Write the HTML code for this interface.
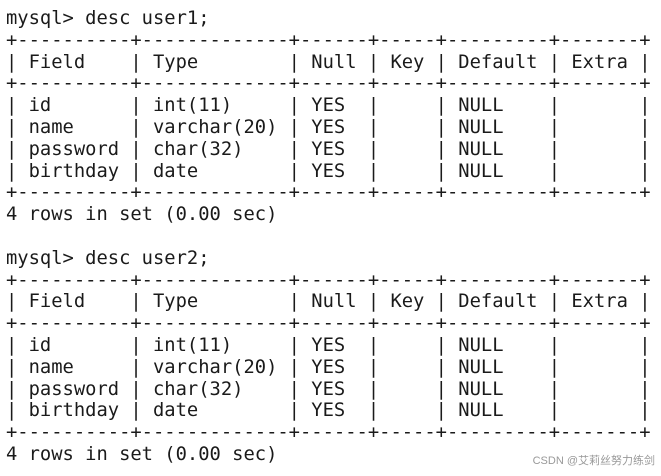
<!DOCTYPE html>
<html><head><meta charset="utf-8"><style>
html,body{margin:0;padding:0;background:#fff;width:661px;height:476px;overflow:hidden;position:relative}
pre{margin:0;position:absolute;left:6px;top:8px;font-family:"DejaVu Sans Mono","Liberation Mono",monospace;font-size:18.8px;line-height:21.8px;color:#1a1a1a;letter-spacing:0}
.wm{position:absolute;right:6px;bottom:8px;font-family:"Liberation Sans","Noto Sans CJK SC",sans-serif;font-size:11px;color:#999}
</style></head><body>
<pre>mysql&gt; desc user1;
+----------+-------------+------+-----+---------+-------+
| Field    | Type        | Null | Key | Default | Extra |
+----------+-------------+------+-----+---------+-------+
| id       | int(11)     | YES  |     | NULL    |       |
| name     | varchar(20) | YES  |     | NULL    |       |
| password | char(32)    | YES  |     | NULL    |       |
| birthday | date        | YES  |     | NULL    |       |
+----------+-------------+------+-----+---------+-------+
4 rows in set (0.00 sec)

mysql&gt; desc user2;
+----------+-------------+------+-----+---------+-------+
| Field    | Type        | Null | Key | Default | Extra |
+----------+-------------+------+-----+---------+-------+
| id       | int(11)     | YES  |     | NULL    |       |
| name     | varchar(20) | YES  |     | NULL    |       |
| password | char(32)    | YES  |     | NULL    |       |
| birthday | date        | YES  |     | NULL    |       |
+----------+-------------+------+-----+---------+-------+
4 rows in set (0.00 sec)</pre>
<div class="wm">CSDN @艾莉丝努力练剑</div>
</body></html>
